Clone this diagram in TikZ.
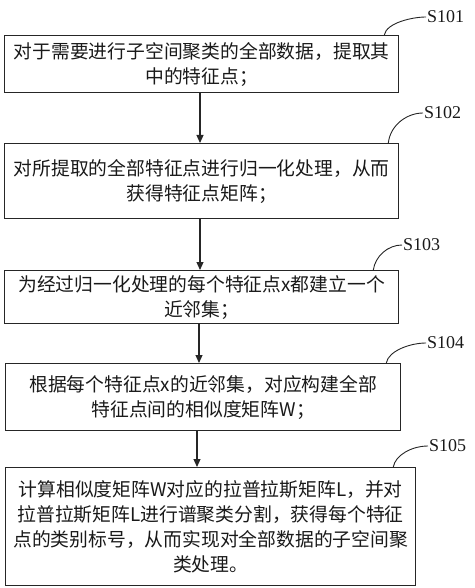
\documentclass[tikz,border=0pt]{standalone}
\usepackage{fontspec}
\setmainfont{Liberation Serif}
\newfontfamily\cjk{Noto Sans CJK SC}
\usetikzlibrary{arrows.meta}
\begin{document}
\begin{tikzpicture}[x=1pt,y=1pt,
  box/.style={draw=black!85, line width=1.3pt, inner sep=0pt, anchor=north west,
    align=center, text=black!90, font=\cjk\fontsize{18.8}{25}\selectfont},
  lab/.style={anchor=west, inner sep=1pt, text=black!90, font=\fontsize{18}{20}\selectfont},
  lead/.style={draw=black!85, line width=0.9pt},
  flow/.style={draw=black!85, line width=1.1pt, -{Triangle[length=8pt,width=7pt]}}]
\useasboundingbox (0,0) rectangle (474,-588);
\node[box, minimum width=394, minimum height=57] (b1) at (4,-35)
  {对于需要进行子空间聚类的全部数据，提取其\\中的特征点；};
\node[box, minimum width=394, minimum height=75] (b2) at (4,-143)
  {对所提取的全部特征点进行归一化处理，从而\\获得特征点矩阵；};
\node[box, minimum width=394, minimum height=53] (b3) at (4,-270)
  {为经过归一化处理的每个特征点x都建立一个\\近邻集；};
\node[box, minimum width=395, minimum height=67] (b4) at (5,-363)
  {根据每个特征点x的近邻集，对应构建全部\\特征点间的相似度矩阵W；};
\node[box, minimum width=410, minimum height=118] (b5) at (5,-467)
  {计算相似度矩阵W对应的拉普拉斯矩阵L，并对\\拉普拉斯矩阵L进行谱聚类分割，获得每个特征\\点的类别标号，从而实现对全部数据的子空间聚\\类处理。};
\node[lab] (s1) at (426,-17) {S101};
\node[lab] (s2) at (423,-113) {S102};
\node[lab] (s3) at (402,-245) {S103};
\node[lab] (s4) at (426,-343) {S104};
\node[lab] (s5) at (428,-446) {S105};
\draw[lead] ([xshift=-15]b1.north east) .. controls +(2,12) and +(-14,0) .. (s1.west);
\draw[lead] ([xshift=-11]b2.north east) .. controls +(2,18) and +(-16,0) .. (s2.west);
\draw[lead] ([xshift=-26]b3.north east) .. controls +(2,14) and +(-14,0) .. (s3.west);
\draw[lead] ([xshift=-15]b4.north east) .. controls +(2,12) and +(-16,0) .. (s4.west);
\draw[lead] ([xshift=-23]b5.north east) .. controls +(2,12) and +(-16,0) .. (s5.west);
\coordinate (ax) at (200,0);
\coordinate (ay) at (197,0);
\draw[flow] (b1.south -| ax) -- (b2.north -| ax);
\draw[flow] (b2.south -| ax) -- (b3.north -| ax);
\draw[flow] ([xshift=-1]b3.south -| ax) -- ([xshift=-1]b4.north -| ax);
\draw[flow] (b4.south -| ay) -- (b5.north -| ay);
\end{tikzpicture}
\end{document}
